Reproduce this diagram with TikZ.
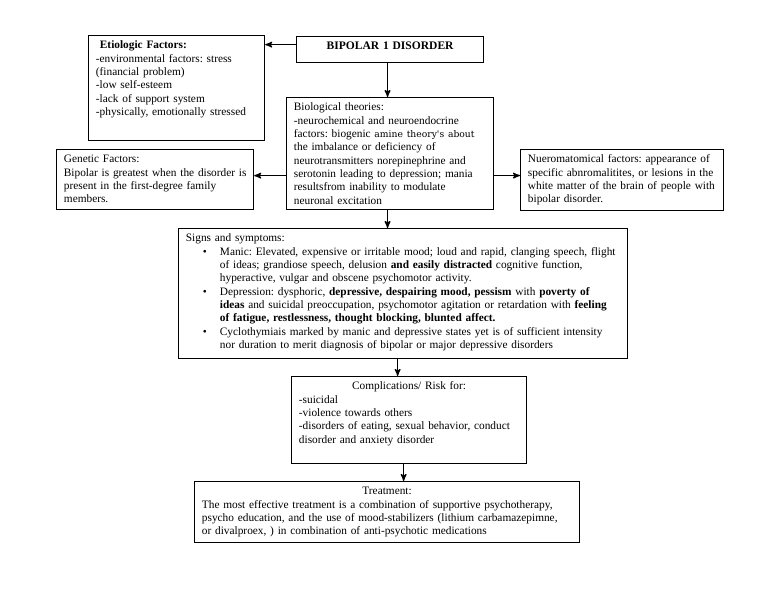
\documentclass[tikz,border=0pt]{standalone}
\usepackage{fontspec}
\setmainfont{Liberation Serif}
\newfontfamily\otherserif{DejaVu Serif}
\usepackage{tikz}
\usetikzlibrary{arrows}
\frenchspacing

\newcommand{\itm}{\par\noindent\llap{\textbullet\hspace{9.75pt}}}

\begin{document}
\begin{tikzpicture}[x=0.75pt,y=-0.75pt,->,>=stealth',line width=0.9pt,
  box/.style={draw,anchor=north west,align=left,inner xsep=5.5pt,inner ysep=3pt,
    text height=7pt,font=\fontsize{8.5pt}{10pt}\selectfont}]

  \useasboundingbox[fill=white] (0,0) rectangle (768,594);

  \node[box,align=center,font=\fontsize{8.65pt}{10pt}\selectfont\bfseries,
    text width=129.25pt,text depth=6.5pt] (bipolar) at (296,36) {BIPOLAR 1 DISORDER};
  \node[box,text width=121pt,text depth=65.75pt] (etio) at (88,35)
    {\hspace*{3pt}\textbf{Etiologic Factors:}\\
     -environmental factors: stress\\
     (financial problem)\\
     -low self-esteem\\
     -lack of support system\\
     -physically, emotionally stressed};
  \node[box,text width=144.25pt,text depth=71pt] (bio) at (286,97)
    {Biological theories:\\
     -neurochemical and neuroendocrine\\
     factors: biogenic {\otherserif\fontsize{6.9pt}{10pt}\selectfont amine theory's about}\\
     the imbalance or deficiency of\\
     neurotransmitters norepinephrine and\\
     serotonin leading to depression; mania\\
     resultsfrom inability to modulate\\
     neuronal excitation};
  \node[box,inner xsep=4.5pt,text width=138.75pt,text depth=32pt] (gen) at (56,149)
    {\hspace*{1pt}Genetic Factors:\\
     \hspace*{1pt}Bipolar is greatest when the disorder is\\
     \hspace*{1pt}present in the first-degree family\\
     \hspace*{1pt}members.};
  \node[box,text width=141.25pt,text depth=32.75pt] (neuro) at (520,149)
    {Nueromatomical factors: appearance of\\
     specific abnromalitites, or lesions in the\\
     white matter of the brain of people with\\
     bipolar disorder.};
  \node[box,text width=325.75pt,text depth=84.5pt] (signs) at (178,228)
    {Signs and symptoms:\par
     {\leftskip=25.5pt
     \itm Manic: Elevated, expensive or irritable mood; loud and rapid, clanging speech, flight\\
     of ideas; grandiose speech, delusion \textbf{and easily distracted} cognitive function,\\
     hyperactive, vulgar and obscene psychomotor activity.
     \itm Depression: dysphoric, \textbf{depressive, despairing mood, pessism} with \textbf{poverty of}\\
     \textbf{ideas} and suicidal preoccupation, psychomotor agitation or retardation with \textbf{feeling}\\
     \textbf{of fatigue, restlessness, thought blocking, blunted affect.}
     \itm Cyclothymiais marked by manic and depressive states yet is of sufficient intensity\\
     nor duration to merit diagnosis of bipolar or major depressive disorders\par}};
  \node[box,text width=165.25pt,text depth=52.25pt] (comp) at (291,376)
    {\centerline{Complications/ Risk for:}
     -suicidal\\
     -violence towards others\\
     -disorders of eating, sexual behavior, conduct\\
     disorder and anxiety disorder};
  \node[box,text width=277.75pt,text depth=32.75pt] (treat) at (194,481)
    {\centerline{Treatment:}
     The most effective treatment is a combination of supportive psychotherapy,\\
     psycho education, and the use of mood-stabilizers (lithium carbamazepimne,\\
     or divalproex, ) in combination of anti-psychotic medications};

  \draw ([yshift=3.75pt]bipolar.west) -- ([yshift=3.75pt]bipolar.west -| etio.east);
  \draw ([xshift=-1.9pt]bipolar.south) -- ([xshift=-1.9pt]bipolar.south |- bio.north);
  \draw ([yshift=3pt]bio.west |- gen.east) -- ([yshift=3pt]gen.east);
  \draw ([yshift=3.4pt]bio.east |- neuro.west) -- ([yshift=3.4pt]neuro.west);
  \draw ([xshift=-1.9pt]bio.south) -- ([xshift=-1.9pt]bio.south |- signs.north);
  \draw ([xshift=-8.6pt]comp.north |- signs.south) -- ([xshift=-8.6pt]comp.north);
  \draw ([xshift=-4.1pt]comp.south) -- ([xshift=-4.1pt]comp.south |- treat.north);

\end{tikzpicture}
\end{document}
